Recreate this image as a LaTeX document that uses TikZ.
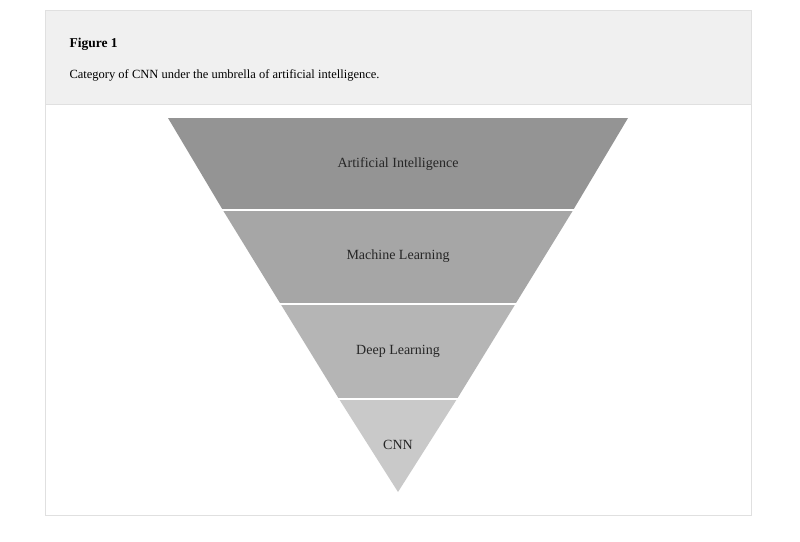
\documentclass[tikz,border=0pt]{standalone}
\usepackage{fontspec}
\setmainfont{Liberation Serif}
\begin{document}
\begin{tikzpicture}[x=1pt,y=-1pt,
  lbl/.style={font=\fontsize{14}{16}\selectfont, text=black!85},
  sep/.style={white, line width=2pt}]
\useasboundingbox (0,0) rectangle (800,541);
\fill[white] (0,0) rectangle (800,541);
\draw[black!12, fill=white] (45.5,10.5) rectangle (751.5,515.5);
\fill[black!6] (46,11) rectangle (751,104);
\draw[black!12] (46,104.5) -- (751,104.5);
\node[anchor=base west, font=\bfseries\fontsize{13.5}{15}\selectfont] (fig) at (66,47) {Figure 1};
\node[anchor=base west, font=\fontsize{12.5}{14}\selectfont] (cap) at (66,78) {Category of CNN under the umbrella of artificial intelligence.};
% layers: half-width = 230*(492-y)/374
\fill[fill=black!42] (168,118) -- (628,118) -- (573.5,209.5) -- (222.5,209.5) -- cycle;
\fill[fill=black!35] (222.5,209.5) -- (573.5,209.5) -- (515.7,303.5) -- (280.3,303.5) -- cycle;
\fill[fill=black!29] (280.3,303.5) -- (515.7,303.5) -- (457.3,398.5) -- (338.7,398.5) -- cycle;
\fill[fill=black!21] (338.7,398.5) -- (457.3,398.5) -- (398,492) -- cycle;
\draw[sep] (215,209.5) -- (581,209.5);
\draw[sep] (273,303.5) -- (523,303.5);
\draw[sep] (331,398.5) -- (465,398.5);
\node[lbl] (ai) at (398,164) {Artificial Intelligence};
\node[lbl] (ml) at (398,256) {Machine Learning};
\node[lbl] (dl) at (398,351) {Deep Learning};
\node[lbl] (cnn) at (398,445) {CNN};
\end{tikzpicture}
\end{document}
